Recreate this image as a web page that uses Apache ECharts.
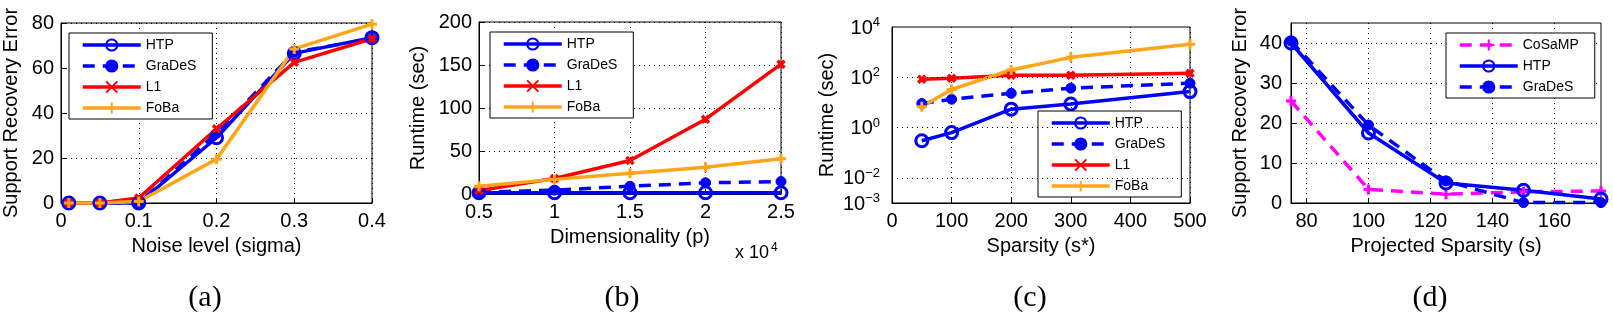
<!DOCTYPE html>
<html>
<head>
<meta charset="utf-8">
<script src="https://cdn.jsdelivr.net/npm/echarts@6/dist/echarts.min.js"></script>
<style>
  html, body { margin: 0; padding: 0; background: #fff; }
  #chart { width: 1613px; height: 316px; }
</style>
</head>
<body>
<div id="chart"></div>
<script>
// (a) support recovery error vs noise level
const noiseLevels = [0.01, 0.05, 0.1, 0.2, 0.3, 0.4];
const aHTP = [0, 0, 0, 29, 66.5, 73.5];
const aGraDeS = [0, 0, 0, 31, 67, 73];
const aL1 = [0, 0, 2.2, 33, 62.5, 73];
const aFoBa = [0, 0, 0.7, 19.5, 68.5, 79.5];

// (b) runtime vs dimensionality (x 10^4)
const dims = [0.5, 1, 1.5, 2, 2.5];
const bHTP = [1.5, 1.5, 1.5, 1.5, 1.5];
const bGraDeS = [2, 4.5, 9, 13, 14.5];
const bL1 = [4, 18, 39, 87, 151];
const bFoBa = [9, 17, 24, 31, 41];

// (c) runtime vs sparsity, log scale
const sparsity = [50, 100, 200, 300, 500];
const cHTP = [0.3, 0.63, 5.4, 8.7, 27];
const cGraDeS = [9, 13.4, 23, 37, 58];
const cL1 = [84, 92, 120, 120, 145];
const cFoBa = [6.8, 33, 195, 620, 2050];
const cLabelExps = [-3, -2, 0, 2, 4];
const cGridValues = [0.01, 1, 100];

// (d) support recovery error vs projected sparsity
const projSparsity = [75, 100, 125, 150, 175];
const dCoSaMP = [25.5, 3.4, 2.2, 2.8, 3];
const dHTP = [40, 17.5, 5, 3.2, 1];
const dGraDeS = [40.5, 19.5, 5.5, 0.1, 0.1];
const dXTicks = [80, 100, 120, 140, 160];
const dYTicks = [0, 10, 20, 30, 40];

const legendNames = ["HTP", "GraDeS", "L1", "FoBa"];
const legendNamesD = ["CoSaMP", "HTP", "GraDeS"];

const FONT = "Liberation Sans";
const BLUE = "#0000ff";
const RED = "#ff0000";
const ORANGE = "#ffa51a";
const MAGENTA = "#ff00ff";
const X_PATH = "path://M0,0L10,10M10,0L0,10";
const PLUS_PATH = "path://M5,0L5,10M0,5L10,5";

const chart = echarts.init(document.getElementById("chart"));

function pairs(xs, ys) {
  return xs.map((x, i) => [x, ys[i]]);
}

const styles = {
  HTP: {
    symbol: "circle", symbolSize: 12,
    itemStyle: { color: "rgba(255,255,255,0)", borderColor: BLUE, borderWidth: 3 },
    lineStyle: { color: BLUE, width: 3.5 },
  },
  GraDeS: {
    symbol: "circle", symbolSize: 10,
    itemStyle: { color: BLUE, borderColor: BLUE, borderWidth: 1 },
    lineStyle: { color: BLUE, width: 3.5, type: [12, 8] },
  },
  L1: {
    symbol: X_PATH, symbolSize: 7,
    itemStyle: { color: RED, borderColor: RED, borderWidth: 3.5 },
    lineStyle: { color: RED, width: 3.5 },
  },
  FoBa: {
    symbol: PLUS_PATH, symbolSize: 10,
    itemStyle: { color: ORANGE, borderColor: ORANGE, borderWidth: 3 },
    lineStyle: { color: ORANGE, width: 3.5 },
  },
  CoSaMP: {
    symbol: PLUS_PATH, symbolSize: 10,
    itemStyle: { color: MAGENTA, borderColor: MAGENTA, borderWidth: 3 },
    lineStyle: { color: MAGENTA, width: 3.5, type: [12, 8] },
  },
};

function line(name, idx, xs, ys, extra) {
  return Object.assign({
    name: name,
    type: "line",
    xAxisIndex: idx,
    yAxisIndex: idx,
    data: pairs(xs, ys),
    clip: false,
    emphasis: { disabled: true },
  }, styles[name], extra || {});
}

const labelStyle = { color: "#000", fontSize: 20, fontFamily: FONT };
const nameStyle = { color: "#000", fontSize: 20, fontFamily: FONT };
const splitStyle = { show: true, lineStyle: { color: "#000", width: 1, type: [1, 4] } };
const tickStyle = { show: true, inside: true, length: 5, lineStyle: { color: "#000" } };

function xAxis(idx, opts) {
  return Object.assign({
    type: "value",
    gridIndex: idx,
    nameLocation: "middle",
    nameGap: 33,
    nameTextStyle: nameStyle,
    axisLine: { show: true, lineStyle: { color: "#000" } },
    axisTick: tickStyle,
    axisLabel: Object.assign({ margin: 8 }, labelStyle),
    splitLine: splitStyle,
  }, opts);
}

function yAxis(idx, opts) {
  return Object.assign({
    type: "value",
    gridIndex: idx,
    nameLocation: "middle",
    nameTextStyle: nameStyle,
    axisLine: { show: true, lineStyle: { color: "#000" } },
    axisTick: tickStyle,
    axisLabel: Object.assign({ margin: 7 }, labelStyle),
    splitLine: splitStyle,
  }, opts);
}

function legend(names, left, top) {
  return {
    data: names,
    orient: "vertical",
    left: left,
    top: top,
    itemWidth: 58,
    itemHeight: 14,
    itemGap: 7,
    padding: [5, 16, 4, 12],
    borderColor: "#000",
    borderWidth: 1,
    borderRadius: 0,
    backgroundColor: "#fff",
    lineStyle: { width: 3.5 },
    textStyle: { color: "#000", fontSize: 14, fontFamily: FONT },
    selectedMode: false,
  };
}

function supFormat(v) {
  const e = Math.round(Math.log10(v));
  if (!cLabelExps.includes(e)) return "";
  const s = e < 0 ? "\u2212" + (-e) : String(e);
  return "{b|10}{s|" + s + "}";
}

function caption(text, x) {
  return {
    type: "text", x: x, y: 298,
    style: { text: text, font: "30px 'Liberation Serif'", fill: "#000", textAlign: "center", textVerticalAlign: "middle" },
  };
}

const frame = { show: true, borderColor: "#000", borderWidth: 1, backgroundColor: "#fff" };

chart.setOption({
  animation: false,
  backgroundColor: "#fff",
  grid: [
    Object.assign({ left: 59, top: 23, width: 313, height: 180 }, frame),
    Object.assign({ left: 479, top: 22, width: 302, height: 172 }, frame),
    Object.assign({ left: 892, top: 27, width: 298, height: 176 }, frame),
    Object.assign({ left: 1291, top: 23, width: 310, height: 180 }, frame),
  ],
  xAxis: [
    xAxis(0, { name: "Noise level (sigma)", min: 0, max: 0.4, interval: 0.1 }),
    xAxis(1, { name: "Dimensionality (p)", min: 0.5, max: 2.5, interval: 0.5 }),
    xAxis(2, { name: "Sparsity (s*)", min: 0, max: 500, interval: 100 }),
    xAxis(3, {
      name: "Projected Sparsity (s)", min: 75, max: 175,
      axisTick: Object.assign({}, tickStyle, { customValues: dXTicks }),
      axisLabel: Object.assign({ margin: 8, customValues: dXTicks }, labelStyle),
    }),
  ],
  yAxis: [
    yAxis(0, { name: "Support Recovery Error", nameGap: 40, min: 0, max: 80, interval: 20 }),
    yAxis(1, { name: "Runtime (sec)", nameGap: 51, min: 0, max: 200, interval: 50 }),
    yAxis(2, {
      type: "log", logBase: 10, name: "Runtime (sec)", nameGap: 55,
      min: 0.001, max: 10000,
      axisTick: { show: false },
      splitLine: { show: false },
      axisLabel: Object.assign({}, labelStyle, {
        margin: 12,
        showMinLabel: true,
        showMaxLabel: true,
        hideOverlap: false,
        formatter: supFormat,
        rich: {
          b: { fontSize: 20, fontFamily: FONT, color: "#000", lineHeight: 22, verticalAlign: "bottom" },
          s: { fontSize: 13, fontFamily: FONT, color: "#000", verticalAlign: "top" },
        },
      }),
    }),
    yAxis(3, {
      name: "Support Recovery Error", nameGap: 41, min: 0, max: 45,
      axisTick: Object.assign({}, tickStyle, { customValues: dYTicks }),
      axisLabel: Object.assign({ margin: 9, customValues: dYTicks }, labelStyle),
    }),
  ],
  legend: [
    legend(legendNames, 69, 33),
    legend(legendNames, 490, 32),
    legend(legendNames, 1038, 111),
    legend(legendNamesD, 1446, 33),
  ],
  graphic: [
    caption("(a)", 205),
    caption("(b)", 622),
    caption("(c)", 1030),
    caption("(d)", 1430),
    { type: "text", x: 735, y: 253, style: { text: "x 10", font: "18px 'Liberation Sans'", fill: "#000", textAlign: "left", textVerticalAlign: "middle" } },
    { type: "text", x: 771, y: 248, style: { text: "4", font: "12px 'Liberation Sans'", fill: "#000", textAlign: "left", textVerticalAlign: "middle" } },
  ],
  series: [
    line("HTP", 0, noiseLevels, aHTP),
    line("GraDeS", 0, noiseLevels, aGraDeS),
    line("L1", 0, noiseLevels, aL1),
    line("FoBa", 0, noiseLevels, aFoBa),

    line("HTP", 1, dims, bHTP),
    line("GraDeS", 1, dims, bGraDeS),
    line("L1", 1, dims, bL1),
    line("FoBa", 1, dims, bFoBa),

    line("HTP", 2, sparsity, cHTP, {
      markLine: {
        silent: true,
        symbol: "none",
        label: { show: false },
        lineStyle: { color: "#000", width: 1, type: [1, 4] },
        data: cGridValues.map((v) => ({ yAxis: v })),
      },
    }),
    line("GraDeS", 2, sparsity, cGraDeS),
    line("L1", 2, sparsity, cL1),
    line("FoBa", 2, sparsity, cFoBa),

    line("CoSaMP", 3, projSparsity, dCoSaMP),
    line("HTP", 3, projSparsity, dHTP),
    line("GraDeS", 3, projSparsity, dGraDeS),
  ],
});
</script>
</body>
</html>
